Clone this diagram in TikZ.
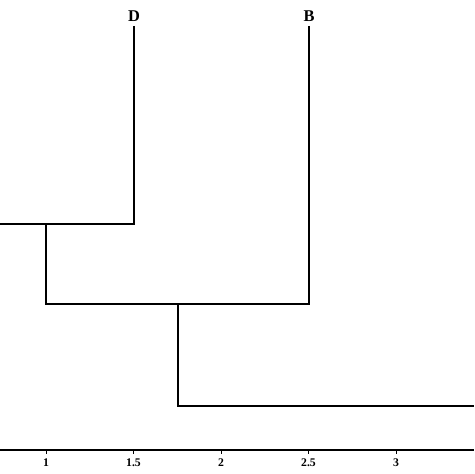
\documentclass[tikz,border=0pt]{standalone}
\usepackage{fontspec}
\setmainfont{Liberation Serif}
\usetikzlibrary{positioning}

\begin{document}
\begin{tikzpicture}[
        x=0.03cm, y=-0.03cm,
        branch/.style={line width=2.5pt},
        leaf/.style={font=\bfseries\fontsize{14}{14}\selectfont, inner sep=1pt},
        ticklabel/.style={font=\bfseries\fontsize{10}{10}\selectfont, inner sep=1pt}
    ]
        \useasboundingbox (0,0) rectangle (474,474);

        % leaves
        \node[leaf] (d) at (134,16) {D};
        \node[leaf] (b) at (309,16) {B};

        % joins
        \coordinate (dj) at (134,224);
        \coordinate (lj) at (0,224);
        \coordinate (ej) at (46,224);
        \coordinate (em) at (46,304);
        \coordinate (bj) at (309,304);
        \coordinate (fj) at (178,304);
        \coordinate (fm) at (178,406);
        \coordinate (rj) at (474,406);

        \draw[branch] (d.south) ++(0,3) -- (dj) -- (lj);
        \draw[branch] (b.south) ++(0,3) -- (bj) -- (em) -- (ej);
        \draw[branch] (fj) -- (fm) -- (rj);

        % axis
        \coordinate (a0) at (0,450);
        \coordinate (a1) at (474,450);
        \draw[line width=2pt] (a0) -- (a1);
        \foreach \v in {1,1.5,2,2.5,3} {
            \draw[line width=0.7pt] ({46+(\v-1)*175},450) -- ++(0,4);
            \node[ticklabel] at ({46+(\v-1)*175},463) {\v};
        }
    \end{tikzpicture}
\end{document}
